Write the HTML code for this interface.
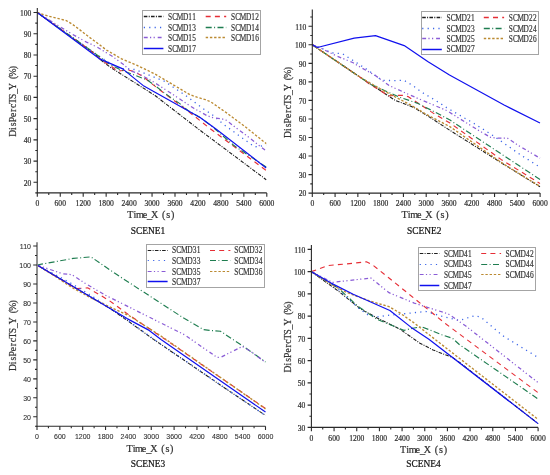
<!DOCTYPE html>
<html><head><meta charset="utf-8"><title>SCENE charts</title>
<style>html,body{margin:0;padding:0;background:#fff;width:550px;height:475px;overflow:hidden}svg{display:block}</style>
</head><body>
<svg width="550" height="475" viewBox="0 0 550 475">
<rect width="550" height="475" fill="#fff"/>
<g fill="none" stroke-linejoin="round" stroke-linecap="butt">
<path d="M37.3 12.5 L96 55 L100 59.5 L112.7 68.9 L117.1 71.5 L155 95.5 L198.6 129.2 L266.2 179.7" stroke="#1e1e1e" stroke-width="1.1" stroke-dasharray="3.6 1.3 1 1.3"/>
<path d="M37.3 12.5 L96 54.3 L101.3 60.1 L111.4 66.4 L117.1 70.8 L120.3 70.8 L129.1 70.2 L134.1 71.5 L143 76.5 L150 82.4 L156.3 87.1 L163.7 92.9 L171 98.2 L181.6 106.1 L194.2 116 L208.9 127.7 L266.2 170.5" stroke="#e62e36" stroke-width="1.15" stroke-dasharray="5 4.2"/>
<path d="M37.3 12.5 L96 54 L111 64 L120 68.5 L129.1 68.9 L135.4 69.6 L150 75.5 L164.7 81.4 L185.3 95.3 L203 108.6 L211.9 114.5 L223.3 124.2 L243 138.5 L254.5 146.8 L259.5 146.5 L266.2 144.8" stroke="#3a64e8" stroke-width="1.3" stroke-dasharray="1.2 4.2"/>
<path d="M37.3 12.5 L96 54.1 L110 64.5 L120 69.5 L131.6 74 L148 80.3 L150 82 L156.3 86.6 L163.7 92.4 L171 97.6 L179.5 103.4 L188.3 110.8 L200 117.4 L211.9 126.3 L234 145.6 L266.2 167" stroke="#1f7d50" stroke-width="1.15" stroke-dasharray="6 2.4 1 2.4"/>
<path d="M37.3 12.5 L61.3 27.6 L73.9 35.1 L86.5 42.1 L96 46.5 L111.4 55.7 L122.8 63.9 L130.4 70.8 L137.9 73.4 L152 81 L172.1 93.9 L194.2 108.6 L200.3 111.8 L206.6 115.5 L212.9 117.6 L221.3 118.7 L226.6 120.3 L232.9 125.5 L245 134.4 L266.2 151" stroke="#8a5cd6" stroke-width="1.25" stroke-dasharray="3.9 2.3 1.2 2.4 1.2 2.9"/>
<path d="M37.3 12.5 L48.6 16.2 L58.7 18.7 L66.3 20.6 L72.6 24.4 L80.2 30.1 L89 37 L96 42.1 L106.4 50 L121.5 58.8 L136.7 65.2 L155 74 L189.8 94.6 L197 97.2 L205.5 99.7 L211 102 L216 105.5 L226.6 112.9 L245 126.6 L266.2 143.6" stroke="#bb8a32" stroke-width="1.35" stroke-dasharray="2.4 1.8"/>
<path d="M37.3 12.5 L99.1 58.6 L122.8 68.9 L126.6 72.1 L143 85.4 L155 92.3 L200.1 117.4 L216.3 129.2 L266.2 168" stroke="#1010ee" stroke-width="1.2"/>
</g>
<g stroke="#2a2a2a" stroke-width="1.1" fill="none">
<path d="M37.3 8.1 V192.91 H266.8"/>
<path d="M33.5 182.3 H37.3 M33.5 161.08 H37.3 M33.5 139.85 H37.3 M33.5 118.62 H37.3 M33.5 97.4 H37.3 M33.5 76.18 H37.3 M33.5 54.95 H37.3 M33.5 33.73 H37.3 M33.5 12.5 H37.3 M35.3 192.91 H37.3 M35.3 171.69 H37.3 M35.3 150.46 H37.3 M35.3 129.24 H37.3 M35.3 108.01 H37.3 M35.3 86.79 H37.3 M35.3 65.56 H37.3 M35.3 44.34 H37.3 M35.3 23.11 H37.3 M37.3 192.91 V196.71 M60.25 192.91 V196.71 M83.2 192.91 V196.71 M106.15 192.91 V196.71 M129.1 192.91 V196.71 M152.05 192.91 V196.71 M175 192.91 V196.71 M197.95 192.91 V196.71 M220.9 192.91 V196.71 M243.85 192.91 V196.71 M266.8 192.91 V196.71 M48.77 192.91 V194.91 M71.72 192.91 V194.91 M94.67 192.91 V194.91 M117.62 192.91 V194.91 M140.57 192.91 V194.91 M163.52 192.91 V194.91 M186.48 192.91 V194.91 M209.43 192.91 V194.91 M232.38 192.91 V194.91 M255.32 192.91 V194.91"/>
</g>
<g font-family='"Liberation Serif", "Times New Roman", serif' font-size="7.6" fill="#2e2e2e" stroke="#2e2e2e" stroke-width="0.2">
<text x="31.3" y="185.6" text-anchor="end">20</text>
<text x="31.3" y="164.38" text-anchor="end">30</text>
<text x="31.3" y="143.15" text-anchor="end">40</text>
<text x="31.3" y="121.92" text-anchor="end">50</text>
<text x="31.3" y="100.7" text-anchor="end">60</text>
<text x="31.3" y="79.48" text-anchor="end">70</text>
<text x="31.3" y="58.25" text-anchor="end">80</text>
<text x="31.3" y="37.02" text-anchor="end">90</text>
<text x="31.3" y="15.8" text-anchor="end">100</text>
<text x="37.3" y="206.41" text-anchor="middle">0</text>
<text x="60.25" y="206.41" text-anchor="middle">600</text>
<text x="83.2" y="206.41" text-anchor="middle">1200</text>
<text x="106.15" y="206.41" text-anchor="middle">1800</text>
<text x="129.1" y="206.41" text-anchor="middle">2400</text>
<text x="152.05" y="206.41" text-anchor="middle">3000</text>
<text x="175" y="206.41" text-anchor="middle">3600</text>
<text x="197.95" y="206.41" text-anchor="middle">4200</text>
<text x="220.9" y="206.41" text-anchor="middle">4800</text>
<text x="243.85" y="206.41" text-anchor="middle">5400</text>
<text x="266.8" y="206.41" text-anchor="middle">6000</text>
</g>
<rect x="142.5" y="10.5" width="118" height="44" fill="#fff" stroke="#a4a4a4" stroke-width="1"/>
<path d="M143.8 16.5 H163.4" stroke="#1e1e1e" stroke-width="1.45" fill="none" stroke-dasharray="3.6 1.3 1 1.3"/>
<text transform="translate(168.00 20.00) scale(0.728 1)" x="2.93 9.19 16.63 24.26 30.52 35.99" y="0" font-family='"Liberation Serif", serif' font-size="10.1" fill="#333" stroke="#333" stroke-width="0.2" text-anchor="middle">SCMD11</text>
<path d="M205.7 16.5 H226.2" stroke="#e62e36" stroke-width="1.45" fill="none" stroke-dasharray="5 4.2"/>
<text transform="translate(231.00 20.00) scale(0.726 1)" x="2.93 9.19 16.63 24.26 30.52 35.99" y="0" font-family='"Liberation Serif", serif' font-size="10.1" fill="#333" stroke="#333" stroke-width="0.2" text-anchor="middle">SCMD12</text>
<path d="M143.8 27.5 H163.4" stroke="#3a64e8" stroke-width="1.45" fill="none" stroke-dasharray="1.2 4.2"/>
<text transform="translate(168.00 30.60) scale(0.728 1)" x="2.93 9.19 16.63 24.26 30.52 35.99" y="0" font-family='"Liberation Serif", serif' font-size="10.1" fill="#333" stroke="#333" stroke-width="0.2" text-anchor="middle">SCMD13</text>
<path d="M205.7 27.5 H226.2" stroke="#1f7d50" stroke-width="1.45" fill="none" stroke-dasharray="6 2.4 1 2.4"/>
<text transform="translate(231.00 30.60) scale(0.726 1)" x="2.93 9.19 16.63 24.26 30.52 35.99" y="0" font-family='"Liberation Serif", serif' font-size="10.1" fill="#333" stroke="#333" stroke-width="0.2" text-anchor="middle">SCMD14</text>
<path d="M143.8 37.5 H163.4" stroke="#8a5cd6" stroke-width="1.45" fill="none" stroke-dasharray="3.9 2.3 1.2 2.4 1.2 2.9"/>
<text transform="translate(168.00 41.10) scale(0.728 1)" x="2.93 9.19 16.63 24.26 30.52 35.99" y="0" font-family='"Liberation Serif", serif' font-size="10.1" fill="#333" stroke="#333" stroke-width="0.2" text-anchor="middle">SCMD15</text>
<path d="M205.7 37.5 H226.2" stroke="#bb8a32" stroke-width="1.45" fill="none" stroke-dasharray="2.4 1.8"/>
<text transform="translate(231.00 41.10) scale(0.726 1)" x="2.93 9.19 16.63 24.26 30.52 35.99" y="0" font-family='"Liberation Serif", serif' font-size="10.1" fill="#333" stroke="#333" stroke-width="0.2" text-anchor="middle">SCMD16</text>
<path d="M143.8 48.5 H163.4" stroke="#1010ee" stroke-width="1.5" fill="none"/>
<text transform="translate(168.00 51.60) scale(0.728 1)" x="2.93 9.19 16.63 24.26 30.52 35.99" y="0" font-family='"Liberation Serif", serif' font-size="10.1" fill="#333" stroke="#333" stroke-width="0.2" text-anchor="middle">SCMD17</text>
<g transform="translate(16.4 100.7) rotate(-90)">
<text transform="translate(-35.25 0.00) scale(0.956 1)" x="2.76 7.71 12.24 17.12 22.07 26.74 31.41 36.43 41.59 46.61 51.85 56.76 61.19 66.35 71.51" y="0" font-family='"Liberation Serif", serif' font-size="10.1" fill="#333" stroke="#333" stroke-width="0.22" text-anchor="middle">DisPercTS_Y (%)</text>
</g>
<text transform="translate(127.80 218.40) scale(1.003 1)" x="2.53 7.16 12.01 17.06 21.77 26.82 31.57 35.81 40.24 44.66" y="0" font-family='"Liberation Serif", serif' font-size="10.1" fill="#333" stroke="#333" stroke-width="0.22" text-anchor="middle">Time_X (s)</text>
<text x="147.9" y="233.9" text-anchor="middle" font-family='"Liberation Serif", "Times New Roman", serif' font-size="10.3" fill="#111" stroke="#111" stroke-width="0.22" textLength="34.4" lengthAdjust="spacingAndGlyphs">SCENE1</text>
<g fill="none" stroke-linejoin="round" stroke-linecap="butt">
<path d="M312.3 44.8 L360.1 77.2 L375.9 87.7 L395 100.2 L414.2 107.6 L431.9 118.6 L450 130.4 L501 162.6 L540 186.8" stroke="#1e1e1e" stroke-width="1.1" stroke-dasharray="3.6 1.3 1 1.3"/>
<path d="M312.3 44.8 L360.1 77.2 L370 84.5 L379 89.8 L388.5 95.9 L396 95.3 L404.5 95.4 L408 96.6 L414.2 100.5 L434.8 114.2 L450 123 L501 159.4 L540 183.5" stroke="#e62e36" stroke-width="1.15" stroke-dasharray="5 4.2"/>
<path d="M312.3 44.8 L320.3 47.8 L332.1 52.9 L342.4 53.7 L358.6 64 L368.8 70.7 L381.8 80.3 L393.6 80.6 L403.9 80.3 L412.7 85.5 L421.5 92.1 L436.3 100.9 L446.6 107.6 L465.3 118.5 L472.7 122.7 L491.1 134.3 L500 140.5 L521.8 155.7 L540 167.2" stroke="#3a64e8" stroke-width="1.3" stroke-dasharray="1.2 4.2"/>
<path d="M312.3 44.8 L360.1 77.2 L370 84 L399.5 97.2 L417.1 103.1 L436.3 112.7 L450 120.1 L540 179.5" stroke="#1f7d50" stroke-width="1.15" stroke-dasharray="6 2.4 1 2.4"/>
<path d="M312.3 44.8 L320.3 47.8 L336.5 55.9 L352.7 62.5 L360 67 L374.7 75.1 L389.1 85.5 L408.3 94.3 L428.9 103.1 L446.6 110.5 L477.9 130 L490.5 137.3 L496.8 138 L507.3 138 L518.9 145.8 L540 158.2" stroke="#8a5cd6" stroke-width="1.25" stroke-dasharray="3.9 2.3 1.2 2.4 1.2 2.9"/>
<path d="M312.3 44.8 L360.1 77.2 L384.7 91.4 L411.2 105.3 L426 114.2 L450 126.7 L503.1 163.7 L540 186.4" stroke="#bb8a32" stroke-width="1.35" stroke-dasharray="2.4 1.8"/>
<path d="M312.3 44.8 L317.4 47.5 L354.2 38.2 L375.5 35.6 L404.2 45.6 L427.7 61.4 L449.5 75 L476.8 90 L504.1 105 L540 123" stroke="#1010ee" stroke-width="1.2"/>
</g>
<g stroke="#2a2a2a" stroke-width="1.1" fill="none">
<path d="M312.3 9.5 V193.12 H540.1"/>
<path d="M308.5 193.12 H312.3 M308.5 174.58 H312.3 M308.5 156.04 H312.3 M308.5 137.5 H312.3 M308.5 118.96 H312.3 M308.5 100.42 H312.3 M308.5 81.88 H312.3 M308.5 63.34 H312.3 M308.5 44.8 H312.3 M308.5 26.26 H312.3 M310.3 183.85 H312.3 M310.3 165.31 H312.3 M310.3 146.77 H312.3 M310.3 128.23 H312.3 M310.3 109.69 H312.3 M310.3 91.15 H312.3 M310.3 72.61 H312.3 M310.3 54.07 H312.3 M310.3 35.53 H312.3 M310.3 16.99 H312.3 M312.3 193.12 V196.92 M335.08 193.12 V196.92 M357.86 193.12 V196.92 M380.64 193.12 V196.92 M403.42 193.12 V196.92 M426.2 193.12 V196.92 M448.98 193.12 V196.92 M471.76 193.12 V196.92 M494.54 193.12 V196.92 M517.32 193.12 V196.92 M540.1 193.12 V196.92 M323.69 193.12 V195.12 M346.47 193.12 V195.12 M369.25 193.12 V195.12 M392.03 193.12 V195.12 M414.81 193.12 V195.12 M437.59 193.12 V195.12 M460.37 193.12 V195.12 M483.15 193.12 V195.12 M505.93 193.12 V195.12 M528.71 193.12 V195.12"/>
</g>
<g font-family='"Liberation Serif", "Times New Roman", serif' font-size="7.6" fill="#2e2e2e" stroke="#2e2e2e" stroke-width="0.2">
<text x="306.3" y="196.42" text-anchor="end">20</text>
<text x="306.3" y="177.88" text-anchor="end">30</text>
<text x="306.3" y="159.34" text-anchor="end">40</text>
<text x="306.3" y="140.8" text-anchor="end">50</text>
<text x="306.3" y="122.26" text-anchor="end">60</text>
<text x="306.3" y="103.72" text-anchor="end">70</text>
<text x="306.3" y="85.18" text-anchor="end">80</text>
<text x="306.3" y="66.64" text-anchor="end">90</text>
<text x="306.3" y="48.1" text-anchor="end">100</text>
<text x="306.3" y="29.56" text-anchor="end">110</text>
<text x="312.3" y="205.82" text-anchor="middle">0</text>
<text x="335.08" y="205.82" text-anchor="middle">600</text>
<text x="357.86" y="205.82" text-anchor="middle">1200</text>
<text x="380.64" y="205.82" text-anchor="middle">1800</text>
<text x="403.42" y="205.82" text-anchor="middle">2400</text>
<text x="426.2" y="205.82" text-anchor="middle">3000</text>
<text x="448.98" y="205.82" text-anchor="middle">3600</text>
<text x="471.76" y="205.82" text-anchor="middle">4200</text>
<text x="494.54" y="205.82" text-anchor="middle">4800</text>
<text x="517.32" y="205.82" text-anchor="middle">5400</text>
<text x="540.1" y="205.82" text-anchor="middle">6000</text>
</g>
<rect x="421.5" y="11.5" width="117" height="43" fill="#fff" stroke="#a4a4a4" stroke-width="1"/>
<path d="M422.2 17.5 H441.8" stroke="#1e1e1e" stroke-width="1.3" fill="none" stroke-dasharray="3.6 1.3 1 1.3"/>
<text transform="translate(446.40 20.60) scale(0.736 1)" x="2.93 9.19 16.63 24.26 30.52 35.99" y="0" font-family='"Liberation Serif", serif' font-size="10.1" fill="#333" stroke="#333" stroke-width="0.2" text-anchor="middle">SCMD21</text>
<path d="M483.8 17.5 H504.1" stroke="#e62e36" stroke-width="1.3" fill="none" stroke-dasharray="5 4.2"/>
<text transform="translate(508.70 20.60) scale(0.723 1)" x="2.93 9.19 16.63 24.26 30.52 35.99" y="0" font-family='"Liberation Serif", serif' font-size="10.1" fill="#333" stroke="#333" stroke-width="0.2" text-anchor="middle">SCMD22</text>
<path d="M422.2 28.5 H441.8" stroke="#3a64e8" stroke-width="1.3" fill="none" stroke-dasharray="1.2 4.2"/>
<text transform="translate(446.40 31.50) scale(0.736 1)" x="2.93 9.19 16.63 24.26 30.52 35.99" y="0" font-family='"Liberation Serif", serif' font-size="10.1" fill="#333" stroke="#333" stroke-width="0.2" text-anchor="middle">SCMD23</text>
<path d="M483.8 28.5 H504.1" stroke="#1f7d50" stroke-width="1.3" fill="none" stroke-dasharray="6 2.4 1 2.4"/>
<text transform="translate(508.70 31.50) scale(0.723 1)" x="2.93 9.19 16.63 24.26 30.52 35.99" y="0" font-family='"Liberation Serif", serif' font-size="10.1" fill="#333" stroke="#333" stroke-width="0.2" text-anchor="middle">SCMD24</text>
<path d="M422.2 38.5 H441.8" stroke="#8a5cd6" stroke-width="1.3" fill="none" stroke-dasharray="3.9 2.3 1.2 2.4 1.2 2.9"/>
<text transform="translate(446.40 42.00) scale(0.736 1)" x="2.93 9.19 16.63 24.26 30.52 35.99" y="0" font-family='"Liberation Serif", serif' font-size="10.1" fill="#333" stroke="#333" stroke-width="0.2" text-anchor="middle">SCMD25</text>
<path d="M483.8 38.5 H504.1" stroke="#bb8a32" stroke-width="1.3" fill="none" stroke-dasharray="2.4 1.8"/>
<text transform="translate(508.70 42.00) scale(0.723 1)" x="2.93 9.19 16.63 24.26 30.52 35.99" y="0" font-family='"Liberation Serif", serif' font-size="10.1" fill="#333" stroke="#333" stroke-width="0.2" text-anchor="middle">SCMD26</text>
<path d="M422.2 49.5 H441.8" stroke="#1010ee" stroke-width="1.5" fill="none"/>
<text transform="translate(446.40 52.40) scale(0.736 1)" x="2.93 9.19 16.63 24.26 30.52 35.99" y="0" font-family='"Liberation Serif", serif' font-size="10.1" fill="#333" stroke="#333" stroke-width="0.2" text-anchor="middle">SCMD27</text>
<g transform="translate(291.4 101.8) rotate(-90)">
<text transform="translate(-35.25 0.00) scale(0.956 1)" x="2.76 7.71 12.24 17.12 22.07 26.74 31.41 36.43 41.59 46.61 51.85 56.76 61.19 66.35 71.51" y="0" font-family='"Liberation Serif", serif' font-size="10.1" fill="#333" stroke="#333" stroke-width="0.22" text-anchor="middle">DisPercTS_Y (%)</text>
</g>
<text transform="translate(402.10 218.40) scale(1.003 1)" x="2.53 7.16 12.01 17.06 21.77 26.82 31.57 35.81 40.24 44.66" y="0" font-family='"Liberation Serif", serif' font-size="10.1" fill="#333" stroke="#333" stroke-width="0.22" text-anchor="middle">Time_X (s)</text>
<text x="424.3" y="233.9" text-anchor="middle" font-family='"Liberation Serif", "Times New Roman", serif' font-size="10.3" fill="#111" stroke="#111" stroke-width="0.22" textLength="34.4" lengthAdjust="spacingAndGlyphs">SCENE2</text>
<g fill="none" stroke-linejoin="round" stroke-linecap="butt">
<path d="M37 265 L110 308.5 L125.6 319.3 L153.6 339.4 L230 391.6 L265.5 415.4" stroke="#1e1e1e" stroke-width="1.1" stroke-dasharray="3.6 1.3 1 1.3"/>
<path d="M37 265 L76.2 288.6 L88 287.9 L108.7 300.2 L130 315.7 L163.9 338.5 L265.5 408.5" stroke="#e62e36" stroke-width="1.15" stroke-dasharray="5 4.2"/>
<path d="M37 265 L68.9 282 L83.6 290.8 L93.9 297.4 L110 308 L125.6 319 L153.6 339 L230 391.4 L265.5 415.6" stroke="#3a64e8" stroke-width="1.3" stroke-dasharray="1.2 4.2"/>
<path d="M37 265 L73.3 258.4 L91 256.9 L114.5 273.1 L184.5 318.6 L203.6 329.6 L209.5 330.4 L220.5 331.2 L230.6 338 L242.4 345.6 L265.5 362" stroke="#1f7d50" stroke-width="1.15" stroke-dasharray="6 2.4 1 2.4"/>
<path d="M37 265 L63 273.9 L71.8 274.6 L86.5 284.2 L105 295 L184.5 334.8 L217.1 357.4 L220.5 357.4 L242.4 346.4 L250.8 351.5 L265.5 362.4" stroke="#8a5cd6" stroke-width="1.25" stroke-dasharray="3.9 2.3 1.2 2.4 1.2 2.9"/>
<path d="M37 265 L55 276.3 L71.8 287.3 L90 297.5 L105 304.6 L130 316.2 L163.9 338 L265.5 408.9" stroke="#bb8a32" stroke-width="1.35" stroke-dasharray="2.4 1.8"/>
<path d="M37 265 L110.1 308.5 L127.1 318.6 L149.2 330.4 L161 339.5 L265.5 412.1" stroke="#1010ee" stroke-width="1.2"/>
</g>
<g stroke="#2a2a2a" stroke-width="1.1" fill="none">
<path d="M37 242.3 V426.79" stroke="#858585" stroke-width="1.8"/>
<path d="M36.6 426.29 H265.5"/>
<path d="M33.2 416.8 H37 M33.2 397.82 H37 M33.2 378.85 H37 M33.2 359.88 H37 M33.2 340.9 H37 M33.2 321.93 H37 M33.2 302.95 H37 M33.2 283.98 H37 M33.2 265 H37 M33.2 246.03 H37 M35 426.29 H37 M35 407.31 H37 M35 388.34 H37 M35 369.36 H37 M35 350.39 H37 M35 331.41 H37 M35 312.44 H37 M35 293.46 H37 M35 274.49 H37 M35 255.51 H37 M37 426.29 V430.09 M59.85 426.29 V430.09 M82.7 426.29 V430.09 M105.55 426.29 V430.09 M128.4 426.29 V430.09 M151.25 426.29 V430.09 M174.1 426.29 V430.09 M196.95 426.29 V430.09 M219.8 426.29 V430.09 M242.65 426.29 V430.09 M265.5 426.29 V430.09 M48.42 426.29 V428.29 M71.28 426.29 V428.29 M94.12 426.29 V428.29 M116.97 426.29 V428.29 M139.82 426.29 V428.29 M162.68 426.29 V428.29 M185.53 426.29 V428.29 M208.38 426.29 V428.29 M231.22 426.29 V428.29 M254.07 426.29 V428.29"/>
</g>
<g font-family='"Liberation Sans", Arial, sans-serif' font-size="7.0" fill="#2e2e2e" stroke="#2e2e2e" stroke-width="0.08">
<text x="31" y="420.1" text-anchor="end">20</text>
<text x="31" y="401.12" text-anchor="end">30</text>
<text x="31" y="382.15" text-anchor="end">40</text>
<text x="31" y="363.18" text-anchor="end">50</text>
<text x="31" y="344.2" text-anchor="end">60</text>
<text x="31" y="325.23" text-anchor="end">70</text>
<text x="31" y="306.25" text-anchor="end">80</text>
<text x="31" y="287.28" text-anchor="end">90</text>
<text x="31" y="268.3" text-anchor="end">100</text>
<text x="31" y="249.33" text-anchor="end">110</text>
<text x="37" y="439.19" text-anchor="middle">0</text>
<text x="59.85" y="439.19" text-anchor="middle">600</text>
<text x="82.7" y="439.19" text-anchor="middle">1200</text>
<text x="105.55" y="439.19" text-anchor="middle">1800</text>
<text x="128.4" y="439.19" text-anchor="middle">2400</text>
<text x="151.25" y="439.19" text-anchor="middle">3000</text>
<text x="174.1" y="439.19" text-anchor="middle">3600</text>
<text x="196.95" y="439.19" text-anchor="middle">4200</text>
<text x="219.8" y="439.19" text-anchor="middle">4800</text>
<text x="242.65" y="439.19" text-anchor="middle">5400</text>
<text x="265.5" y="439.19" text-anchor="middle">6000</text>
</g>
<rect x="146.5" y="244.5" width="118" height="43" fill="#fff" stroke="#a4a4a4" stroke-width="1"/>
<path d="M147.7 250.5 H167.6" stroke="#1e1e1e" stroke-width="1.0" fill="none" stroke-dasharray="3.6 1.3 1 1.3"/>
<text transform="translate(171.90 253.40) scale(0.741 1)" x="2.93 9.19 16.63 24.26 30.52 35.99" y="0" font-family='"Liberation Serif", serif' font-size="10.1" fill="#333" stroke="#333" stroke-width="0.2" text-anchor="middle">SCMD31</text>
<path d="M210 250.5 H230.4" stroke="#e62e36" stroke-width="1.0" fill="none" stroke-dasharray="5 4.2"/>
<text transform="translate(234.20 253.40) scale(0.736 1)" x="2.93 9.19 16.63 24.26 30.52 35.99" y="0" font-family='"Liberation Serif", serif' font-size="10.1" fill="#333" stroke="#333" stroke-width="0.2" text-anchor="middle">SCMD32</text>
<path d="M147.7 260.5 H167.6" stroke="#3a64e8" stroke-width="1.0" fill="none" stroke-dasharray="1.2 4.2"/>
<text transform="translate(171.90 264.30) scale(0.741 1)" x="2.93 9.19 16.63 24.26 30.52 35.99" y="0" font-family='"Liberation Serif", serif' font-size="10.1" fill="#333" stroke="#333" stroke-width="0.2" text-anchor="middle">SCMD33</text>
<path d="M210 260.5 H230.4" stroke="#1f7d50" stroke-width="1.0" fill="none" stroke-dasharray="6 2.4 1 2.4"/>
<text transform="translate(234.20 264.30) scale(0.736 1)" x="2.93 9.19 16.63 24.26 30.52 35.99" y="0" font-family='"Liberation Serif", serif' font-size="10.1" fill="#333" stroke="#333" stroke-width="0.2" text-anchor="middle">SCMD34</text>
<path d="M147.7 271.5 H167.6" stroke="#8a5cd6" stroke-width="1.0" fill="none" stroke-dasharray="3.9 2.3 1.2 2.4 1.2 2.9"/>
<text transform="translate(171.90 274.50) scale(0.741 1)" x="2.93 9.19 16.63 24.26 30.52 35.99" y="0" font-family='"Liberation Serif", serif' font-size="10.1" fill="#333" stroke="#333" stroke-width="0.2" text-anchor="middle">SCMD35</text>
<path d="M210 271.5 H230.4" stroke="#bb8a32" stroke-width="1.0" fill="none" stroke-dasharray="2.4 1.8"/>
<text transform="translate(234.20 274.50) scale(0.736 1)" x="2.93 9.19 16.63 24.26 30.52 35.99" y="0" font-family='"Liberation Serif", serif' font-size="10.1" fill="#333" stroke="#333" stroke-width="0.2" text-anchor="middle">SCMD36</text>
<path d="M147.7 281.5 H167.6" stroke="#1010ee" stroke-width="1.5" fill="none"/>
<text transform="translate(171.90 285.20) scale(0.741 1)" x="2.93 9.19 16.63 24.26 30.52 35.99" y="0" font-family='"Liberation Serif", serif' font-size="10.1" fill="#333" stroke="#333" stroke-width="0.2" text-anchor="middle">SCMD37</text>
<g transform="translate(16 335) rotate(-90)">
<text transform="translate(-35.25 0.00) scale(0.956 1)" x="2.76 7.71 12.24 17.12 22.07 26.74 31.41 36.43 41.59 46.61 51.85 56.76 61.19 66.35 71.51" y="0" font-family='"Liberation Serif", serif' font-size="10.1" fill="#333" stroke="#333" stroke-width="0.22" text-anchor="middle">DisPercTS_Y (%)</text>
</g>
<text transform="translate(127.00 452.00) scale(1.003 1)" x="2.53 7.16 12.01 17.06 21.77 26.82 31.57 35.81 40.24 44.66" y="0" font-family='"Liberation Serif", serif' font-size="10.1" fill="#333" stroke="#333" stroke-width="0.22" text-anchor="middle">Time_X (s)</text>
<text x="148" y="467" text-anchor="middle" font-family='"Liberation Serif", "Times New Roman", serif' font-size="10.3" fill="#111" stroke="#111" stroke-width="0.22" textLength="34.4" lengthAdjust="spacingAndGlyphs">SCENE3</text>
<g fill="none" stroke-linejoin="round" stroke-linecap="butt">
<path d="M311.4 271.65 L338.5 291.2 L360.5 308.9 L376.7 317.7 L399.5 328.9 L415.7 340.3 L420 343.2 L433.1 350 L452.7 357.6 L460 362.8 L480 378.4 L538.1 423.6" stroke="#1e1e1e" stroke-width="1.1" stroke-dasharray="3.6 1.3 1 1.3"/>
<path d="M311.4 271.65 L328.1 265.5 L345.8 264 L366.4 261.8 L372.3 264.7 L389 278 L446.6 324.5 L538.1 392.7" stroke="#e62e36" stroke-width="1.15" stroke-dasharray="5 4.2"/>
<path d="M311.4 271.65 L338.5 289.5 L357.6 307.4 L367.9 314.8 L379.7 317 L385.6 315.5 L399.5 314.2 L426 311.5 L441.8 316.2 L459.3 320.5 L474.5 315.7 L481.1 317.3 L502.9 335.8 L538.1 357.5" stroke="#3a64e8" stroke-width="1.3" stroke-dasharray="1.2 4.2"/>
<path d="M311.4 271.65 L338.5 288.3 L357.6 306 L376.7 319.2 L403.9 330.4 L412.7 328.2 L421.5 326.7 L441.8 334.7 L452.6 338.4 L459.3 344.5 L538.1 399" stroke="#1f7d50" stroke-width="1.15" stroke-dasharray="6 2.4 1 2.4"/>
<path d="M311.4 271.65 L332.6 282.4 L338.5 281.7 L370.9 278 L389 292.7 L414.2 303.1 L448.4 314 L465.8 326 L538.1 382.6" stroke="#8a5cd6" stroke-width="1.25" stroke-dasharray="3.9 2.3 1.2 2.4 1.2 2.9"/>
<path d="M311.4 271.65 L331.1 284.4 L345 291.6 L353.2 295 L370 301 L389 306.7 L399.5 312.7 L414.2 323 L434.8 339.2 L538.1 419.4" stroke="#bb8a32" stroke-width="1.35" stroke-dasharray="2.4 1.8"/>
<path d="M311.4 271.65 L331.1 283.1 L353.2 294.2 L389.9 310.5 L411.2 327.4 L428.9 339.2 L538.1 423.6" stroke="#1010ee" stroke-width="1.2"/>
</g>
<g stroke="#2a2a2a" stroke-width="1.1" fill="none">
<path d="M311.4 245 V427.4 H538.1"/>
<path d="M307.6 427.4 H311.4 M307.6 405.15 H311.4 M307.6 382.9 H311.4 M307.6 360.65 H311.4 M307.6 338.4 H311.4 M307.6 316.15 H311.4 M307.6 293.9 H311.4 M307.6 271.65 H311.4 M307.6 249.4 H311.4 M309.4 416.27 H311.4 M309.4 394.02 H311.4 M309.4 371.77 H311.4 M309.4 349.52 H311.4 M309.4 327.27 H311.4 M309.4 305.02 H311.4 M309.4 282.77 H311.4 M309.4 260.52 H311.4 M311.4 427.4 V431.2 M334.07 427.4 V431.2 M356.74 427.4 V431.2 M379.41 427.4 V431.2 M402.08 427.4 V431.2 M424.75 427.4 V431.2 M447.42 427.4 V431.2 M470.09 427.4 V431.2 M492.76 427.4 V431.2 M515.43 427.4 V431.2 M538.1 427.4 V431.2 M322.73 427.4 V429.4 M345.4 427.4 V429.4 M368.07 427.4 V429.4 M390.75 427.4 V429.4 M413.41 427.4 V429.4 M436.08 427.4 V429.4 M458.75 427.4 V429.4 M481.43 427.4 V429.4 M504.1 427.4 V429.4 M526.76 427.4 V429.4"/>
</g>
<g font-family='"Liberation Serif", "Times New Roman", serif' font-size="7.6" fill="#2e2e2e" stroke="#2e2e2e" stroke-width="0.2">
<text x="305.4" y="430.7" text-anchor="end">30</text>
<text x="305.4" y="408.45" text-anchor="end">40</text>
<text x="305.4" y="386.2" text-anchor="end">50</text>
<text x="305.4" y="363.95" text-anchor="end">60</text>
<text x="305.4" y="341.7" text-anchor="end">70</text>
<text x="305.4" y="319.45" text-anchor="end">80</text>
<text x="305.4" y="297.2" text-anchor="end">90</text>
<text x="305.4" y="274.95" text-anchor="end">100</text>
<text x="305.4" y="252.7" text-anchor="end">110</text>
<text x="311.4" y="441" text-anchor="middle">0</text>
<text x="334.07" y="441" text-anchor="middle">600</text>
<text x="356.74" y="441" text-anchor="middle">1200</text>
<text x="379.41" y="441" text-anchor="middle">1800</text>
<text x="402.08" y="441" text-anchor="middle">2400</text>
<text x="424.75" y="441" text-anchor="middle">3000</text>
<text x="447.42" y="441" text-anchor="middle">3600</text>
<text x="470.09" y="441" text-anchor="middle">4200</text>
<text x="492.76" y="441" text-anchor="middle">4800</text>
<text x="515.43" y="441" text-anchor="middle">5400</text>
<text x="538.1" y="441" text-anchor="middle">6000</text>
</g>
<rect x="418.5" y="247.5" width="117" height="43" fill="#fff" stroke="#a4a4a4" stroke-width="1"/>
<path d="M419.7 253.5 H439.3" stroke="#1e1e1e" stroke-width="1.1" fill="none" stroke-dasharray="3.6 1.3 1 1.3"/>
<text transform="translate(443.80 257.20) scale(0.723 1)" x="2.93 9.19 16.63 24.26 30.52 35.99" y="0" font-family='"Liberation Serif", serif' font-size="10.1" fill="#333" stroke="#333" stroke-width="0.2" text-anchor="middle">SCMD41</text>
<path d="M481.2 253.5 H501.1" stroke="#e62e36" stroke-width="1.1" fill="none" stroke-dasharray="5 4.2"/>
<text transform="translate(505.40 257.20) scale(0.736 1)" x="2.93 9.19 16.63 24.26 30.52 35.99" y="0" font-family='"Liberation Serif", serif' font-size="10.1" fill="#333" stroke="#333" stroke-width="0.2" text-anchor="middle">SCMD42</text>
<path d="M419.7 264.5 H439.3" stroke="#3a64e8" stroke-width="1.1" fill="none" stroke-dasharray="1.2 4.2"/>
<text transform="translate(443.80 267.40) scale(0.723 1)" x="2.93 9.19 16.63 24.26 30.52 35.99" y="0" font-family='"Liberation Serif", serif' font-size="10.1" fill="#333" stroke="#333" stroke-width="0.2" text-anchor="middle">SCMD43</text>
<path d="M481.2 264.5 H501.1" stroke="#1f7d50" stroke-width="1.1" fill="none" stroke-dasharray="6 2.4 1 2.4"/>
<text transform="translate(505.40 267.40) scale(0.736 1)" x="2.93 9.19 16.63 24.26 30.52 35.99" y="0" font-family='"Liberation Serif", serif' font-size="10.1" fill="#333" stroke="#333" stroke-width="0.2" text-anchor="middle">SCMD44</text>
<path d="M419.7 274.5 H439.3" stroke="#8a5cd6" stroke-width="1.1" fill="none" stroke-dasharray="3.9 2.3 1.2 2.4 1.2 2.9"/>
<text transform="translate(443.80 277.80) scale(0.723 1)" x="2.93 9.19 16.63 24.26 30.52 35.99" y="0" font-family='"Liberation Serif", serif' font-size="10.1" fill="#333" stroke="#333" stroke-width="0.2" text-anchor="middle">SCMD45</text>
<path d="M481.2 274.5 H501.1" stroke="#bb8a32" stroke-width="1.1" fill="none" stroke-dasharray="2.4 1.8"/>
<text transform="translate(505.40 277.80) scale(0.736 1)" x="2.93 9.19 16.63 24.26 30.52 35.99" y="0" font-family='"Liberation Serif", serif' font-size="10.1" fill="#333" stroke="#333" stroke-width="0.2" text-anchor="middle">SCMD46</text>
<path d="M419.7 285.5 H439.3" stroke="#1010ee" stroke-width="1.5" fill="none"/>
<text transform="translate(443.80 288.50) scale(0.723 1)" x="2.93 9.19 16.63 24.26 30.52 35.99" y="0" font-family='"Liberation Serif", serif' font-size="10.1" fill="#333" stroke="#333" stroke-width="0.2" text-anchor="middle">SCMD47</text>
<g transform="translate(291 336.3) rotate(-90)">
<text transform="translate(-35.25 0.00) scale(0.956 1)" x="2.76 7.71 12.24 17.12 22.07 26.74 31.41 36.43 41.59 46.61 51.85 56.76 61.19 66.35 71.51" y="0" font-family='"Liberation Serif", serif' font-size="10.1" fill="#333" stroke="#333" stroke-width="0.22" text-anchor="middle">DisPercTS_Y (%)</text>
</g>
<text transform="translate(400.60 453.00) scale(1.003 1)" x="2.53 7.16 12.01 17.06 21.77 26.82 31.57 35.81 40.24 44.66" y="0" font-family='"Liberation Serif", serif' font-size="10.1" fill="#333" stroke="#333" stroke-width="0.22" text-anchor="middle">Time_X (s)</text>
<text x="423.5" y="467.2" text-anchor="middle" font-family='"Liberation Serif", "Times New Roman", serif' font-size="10.3" fill="#111" stroke="#111" stroke-width="0.22" textLength="34.4" lengthAdjust="spacingAndGlyphs">SCENE4</text>
</svg>
</body></html>
